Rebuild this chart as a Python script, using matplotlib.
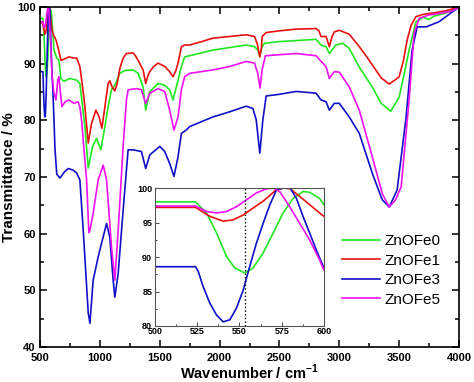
import numpy as np
import matplotlib
matplotlib.use("Agg")
import matplotlib.pyplot as plt
from matplotlib.ticker import MultipleLocator

plt.rcParams['font.family'] = ['Liberation Sans', 'DejaVu Sans']
plt.rcParams['mathtext.fontset'] = 'custom'
plt.rcParams['mathtext.rm'] = 'Liberation Sans:bold'
plt.rcParams['mathtext.bf'] = 'Liberation Sans:bold'

# FTIR spectra (wavenumber in cm-1, transmittance in %)
wn_fe0 = [500, 512, 524, 530.5, 536.4, 542.3, 547.2, 553.1, 558, 564, 570, 575.8, 581.7, 587.6,
          591.5, 597.4, 600, 617, 640, 658, 675, 700, 750, 806, 833, 855, 875, 903, 939, 972,
          1008, 1042, 1069, 1097, 1125, 1167, 1208, 1278, 1319, 1361, 1383, 1417, 1486, 1542,
          1583, 1611, 1653, 1681, 1708, 1750, 1944, 2222, 2292, 2320, 2336, 2352, 2375, 2500,
          2806, 2847, 2889, 2917, 2972, 3028, 3083, 3167, 3275, 3350, 3430, 3500, 3545, 3583,
          3640, 3700, 3750, 3790, 3833, 3900, 4000]
t_fe0 = [98, 98, 98, 96.4, 93.5, 90.1, 88.4, 87.7, 88.4, 90.6, 93.5, 96.4, 98.5, 99.5,
         99.4, 98.5, 97.6, 92.4, 91, 90.6, 87.3, 86.9, 87.4, 87.1, 86.5, 82.5, 78.9, 71.6, 75.4, 76.8,
         74.8, 78.9, 82.4, 85.4, 86.2, 88.3, 88.8, 88.9, 88.3, 85.9, 81.8, 85.1, 86.5, 86.2,
         85.4, 83.6, 87.1, 89.5, 91.2, 91.4, 92.4, 93.3, 93, 92.4, 91.3, 92.8, 93.6, 93.9,
         94.3, 93.3, 93, 91.8, 93.3, 93.6, 92.7, 89.4, 85.9, 83, 81.6, 84.1, 88.5, 92.4,
         97.4, 98.2, 97.8, 98.4, 98.6, 99, 100]

wn_fe1 = [500, 512, 524, 532.5, 540.4, 546.3, 552.2, 558, 564, 572, 576, 580, 585.6, 591.5,
          597.4, 600, 615, 633, 655, 675, 700, 742, 780, 806, 833, 855, 875, 903, 931, 967,
          994, 1017, 1042, 1069, 1083, 1100, 1125, 1145, 1167, 1195, 1222, 1278, 1300, 1319,
          1361, 1383, 1400, 1417, 1450, 1486, 1542, 1583, 1611, 1635, 1653, 1681, 1708, 1750,
          1850, 1944, 2083, 2222, 2292, 2315, 2336, 2348, 2356, 2389, 2500, 2639, 2806, 2830,
          2847, 2889, 2917, 2940, 2958, 3000, 3083, 3167, 3220, 3275, 3350, 3417, 3470, 3500,
          3535, 3567, 3600, 3640, 3700, 3800, 3900, 4000]
t_fe1 = [97.2, 97.2, 97.2, 95.9, 95.2, 95.4, 96.1, 97.1, 98.1, 99.8, 100, 99.9, 98.8, 97.6,
         96.4, 95.9, 95, 94.2, 92.5, 90.6, 90.8, 91.2, 91, 91, 89.5, 86, 82.4, 76, 79.5, 81.8,
         80.6, 78.6, 82.4, 86.5, 87, 86, 85.2, 86.5, 89.2, 91, 91.8, 91.9, 91.3, 90.6,
         88.9, 86.5, 87.8, 88.6, 89.5, 90.1, 89.5, 88.6, 87.7, 88.8, 90.1, 93, 93.3, 93.3,
         93.9, 94.5, 94.8, 95.1, 94.8, 93.5, 91.2, 92.5, 94.8, 95.5, 95.8, 96.1, 96.2, 95.8,
         94.8, 94.8, 93, 94.8, 95.6, 95.9, 95.2, 93, 91.5, 89.8, 87.5, 86.4, 87.2, 87.7,
         90.5, 94.2, 96.8, 98.3, 98.7, 99, 99.4, 100]

wn_fe3 = [500, 512, 524, 525.6, 528.5, 532.5, 536.4, 540.4, 544.3, 548.2, 552.2, 556, 560, 564,
          568, 572, 576, 580, 583.7, 587.6, 591.5, 595.5, 600, 608, 617, 625, 640, 667, 700,
          736, 778, 806, 833, 861, 903, 917, 944, 986, 1014, 1056, 1083, 1111, 1125, 1153,
          1181, 1208, 1236, 1278, 1347, 1383, 1417, 1500, 1542, 1583, 1619, 1653, 1681, 1722,
          1750, 1944, 2083, 2222, 2278, 2306, 2336, 2361, 2389, 2500, 2639, 2806, 2847, 2889,
          2917, 2958, 3000, 3083, 3167, 3275, 3358, 3417, 3483, 3558, 3608, 3650, 3725, 3833,
          3942, 4000]
t_fe3 = [88.6, 88.6, 88.6, 87.9, 85.7, 83.3, 81.6, 80.6, 80.9, 82.6, 85.2, 88.6, 92, 94.9,
         97.6, 99.8, 100, 100, 98.5, 95.9, 93.5, 91, 88.4, 85, 80, 75, 70.5, 69.8, 70.8,
         71.5, 71.2, 70.7, 69.5, 60.6, 46, 44.2, 51.8, 55.9, 58.3, 61.8, 59.4, 51.8, 48.8, 53,
         60.6, 67.7, 74.8, 74.8, 74.5, 71.5, 73.9, 75.4, 74.5, 72.4, 70.1, 73.6, 77.7, 78.3,
         78.9, 80.6, 81.5, 82.5, 82.1, 80.1, 74.2, 80, 84.3, 84.6, 85.1, 84.8, 83.6, 83.3,
         81.8, 83, 83, 80.6, 77.7, 70.7, 66, 64.7, 67.7, 80.6, 92.4, 96.5, 96.5, 97.4,
         99.1, 100]

wn_fe5 = [500, 512, 524, 530.5, 536.4, 542.3, 548.2, 554.1, 560, 566, 570, 573.8, 579.7, 585.6,
          591.5, 597.4, 600, 615, 633, 648, 658, 670, 683, 710, 742, 783, 817, 833, 850, 861,
          889, 908, 917, 944, 986, 1028, 1056, 1097, 1125, 1153, 1194, 1222, 1236, 1306, 1347,
          1383, 1417, 1486, 1542, 1583, 1619, 1653, 1681, 1708, 1750, 1944, 2083, 2222, 2292,
          2319, 2338, 2356, 2383, 2639, 2806, 2861, 2889, 2917, 2958, 3000, 3083, 3167, 3275,
          3360, 3417, 3470, 3517, 3550, 3583, 3625, 3667, 3750, 3850, 3940, 4000]
t_fe5 = [97.4, 97.4, 97.4, 96.6, 96.4, 96.6, 97.3, 98.3, 99.3, 99.9, 100, 99.5, 97.3, 94.9,
         92.5, 89.6, 88.1, 85, 83.6, 87, 87.7, 85, 82.4, 83.3, 83.6, 83, 83.3, 82.4, 79.5, 76.5,
         69.5, 60.2, 60.6, 63.6, 69.5, 72.1, 69.5, 57.7, 51.8, 60.6, 75.3, 83.6, 85.4, 85.6, 85.4,
         83, 84.8, 85.6, 85.1, 81.8, 78.3, 80.6, 85.4, 87.7, 88.3, 88.9, 89.5, 90.4, 90.1,
         88.3, 85.7, 89, 91.4, 91.8, 91.4, 90.1, 89.5, 87.4, 88.6, 88.5, 85.9, 81.8, 73.6,
         67, 64.7, 66, 68.3, 76, 83.6, 95.4, 98, 98.6, 98.9, 99.3, 100]

labels = ['ZnOFe0', 'ZnOFe1', 'ZnOFe3', 'ZnOFe5']
colors = ['#22e622', '#e81010', '#1010c8', '#f010f0']
series = [(wn_fe0, t_fe0), (wn_fe1, t_fe1), (wn_fe3, t_fe3), (wn_fe5, t_fe5)]
marker_wn = 553  # dotted line in the inset

fig = plt.figure(figsize=(4.74, 3.82), dpi=100)
ax = fig.add_axes([0.0844, 0.0916, 0.884, 0.890])

for (wn, t), c, lab in zip(series, colors, labels):
    ax.plot(wn, t, color=c, lw=1.2, label=lab)

ax.set_xlim(500, 4000)
ax.set_ylim(40, 100)
ax.xaxis.set_major_locator(MultipleLocator(500))
ax.xaxis.set_minor_locator(MultipleLocator(250))
ax.yaxis.set_major_locator(MultipleLocator(10))
ax.yaxis.set_minor_locator(MultipleLocator(5))
ax.tick_params(which='both', direction='in', top=True, right=True, width=1.1)
ax.tick_params(which='major', length=5)
ax.tick_params(which='minor', length=3)
ax.tick_params(axis='x', pad=4)
ax.tick_params(axis='y', pad=3)
for lbl in ax.get_xticklabels() + ax.get_yticklabels():
    lbl.set_fontsize(8)
    lbl.set_fontweight('bold')
for sp in ax.spines.values():
    sp.set_linewidth(1.2)
ax.set_xlabel('Wavenumber / cm$^{-1}$', fontsize=10.5, fontweight='bold', labelpad=0)
ax.set_ylabel('Transmittance / %', fontsize=11, fontweight='bold', labelpad=1)

ax.legend(loc='upper left', bbox_to_anchor=(0.7215, 0.387), bbox_transform=fig.transFigure,
          frameon=False, fontsize=11, handlelength=2.5, handletextpad=0.3,
          labelspacing=0.36, borderpad=0, borderaxespad=0)

# inset zoom on the 500-600 cm-1 region
axin = fig.add_axes([0.327, 0.1466, 0.3565, 0.361])
for (wn, t), c in zip(series, colors):
    axin.plot(wn, t, color=c, lw=1.2)
axin.axvline(marker_wn, color='black', ls=':', lw=1)
axin.set_xlim(500, 600)
axin.set_ylim(80, 100)
axin.xaxis.set_major_locator(MultipleLocator(25))
axin.xaxis.set_minor_locator(MultipleLocator(12.5))
axin.yaxis.set_major_locator(MultipleLocator(5))
axin.yaxis.set_minor_locator(MultipleLocator(2.5))
axin.tick_params(which='both', direction='in', width=0.7, colors='#444444',
                 labelcolor='black')
axin.tick_params(axis='x', pad=1)
axin.tick_params(axis='y', pad=2)
axin.tick_params(which='major', length=3)
axin.tick_params(which='minor', length=1.5)
for lbl in axin.get_xticklabels() + axin.get_yticklabels():
    lbl.set_fontsize(6.5)
    lbl.set_fontweight('bold')
for sp in axin.spines.values():
    sp.set_linewidth(0.8)
    sp.set_color('#555555')

fig.savefig('out.png', dpi=100, facecolor='white')
